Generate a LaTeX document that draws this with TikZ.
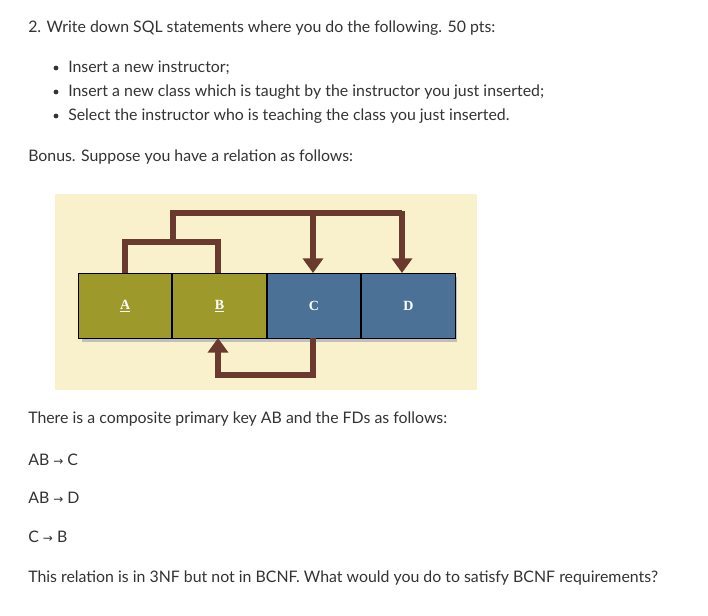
\documentclass[tikz,border=0pt]{standalone}
\usepackage{fontspec}
\setmainfont{Lato}
\newfontfamily\symfont{DejaVu Sans}
\newfontfamily\labelfont{Liberation Serif}
\usetikzlibrary{arrows.meta}
\definecolor{bgcream}{HTML}{F9F0CC}
\definecolor{keyolive}{HTML}{9D9A2B}
\definecolor{attrblue}{HTML}{4B7196}
\definecolor{fdbrown}{HTML}{6B3A2E}
\definecolor{txtgray}{HTML}{333333}
\newcommand{\fdarr}{{\symfont\small →}}
\tikzset{
  txt/.style={anchor=west,text=txtgray,font=\fontsize{11.9}{14}\selectfont,inner sep=0pt},
  attr/.style={draw=black,line width=0.8pt,minimum width=70pt,minimum height=48.75pt,
               text=white,font=\labelfont\bfseries\fontsize{10.5}{12}\selectfont,inner sep=0pt},
  fd/.style={fdbrown,line width=3.8pt},
  fdarrow/.style={fd,-{Triangle[length=11pt,width=15pt]}},
}
\begin{document}
\begin{tikzpicture}[x=0.75pt,y=-0.75pt]
\useasboundingbox[fill=white] (0,0) rectangle (708,616);

\node[txt] (q) at (28,28) {2. Write down SQL statements where you do the following. 50 pts:};
\foreach \yy/\tt [count=\i] in {68/{Insert a new instructor;},
   92/{Insert a new class which is taught by the instructor you just inserted;},
   116/{Select the instructor who is teaching the class you just inserted.}}{
  \node[txt] (b\i) at (68,\yy) {\tt};
  \fill[txtgray] (56,\yy) circle (2.4);
}
\node[txt] (bonus) at (28,157) {Bonus. Suppose you have a relation as follows:};

% picture
\fill[bgcream] (55,194) rectangle (477,390);
\fill[black!25] (82,277) rectangle (457,342);
\node[attr,fill=keyolive,anchor=north west] (A) at (78,273) {\underline{A}};
\node[attr,fill=keyolive,anchor=west] (B) at (A.east) {\underline{B}};
\node[attr,fill=attrblue,anchor=west] (C) at (B.east) {C};
\node[attr,fill=attrblue,anchor=west] (D) at (C.east) {D};

\draw[fd] (125,273) |- (218,242) -- (218,273);
\draw[fd] (173,242) |- (402,213);
\draw[fdarrow] (313,211) -- (313,273);
\draw[fdarrow] (402,211) -- (402,273);
\draw[fdarrow] (313,338) |- (218,375) -- (218,338);

\node[txt] (pk) at (28,419) {There is a composite primary key AB and the FDs as follows:};
\node[txt] (fd1) at (28,460) {AB \fdarr\ C};
\node[txt] (fd2) at (28,498) {AB \fdarr\ D};
\node[txt] (fd3) at (28,537) {C \fdarr\ B};
\node[txt] (ask) at (28,578) {This relation is in 3NF but not in BCNF. What would you do to satisfy BCNF requirements?};
\end{tikzpicture}
\end{document}
